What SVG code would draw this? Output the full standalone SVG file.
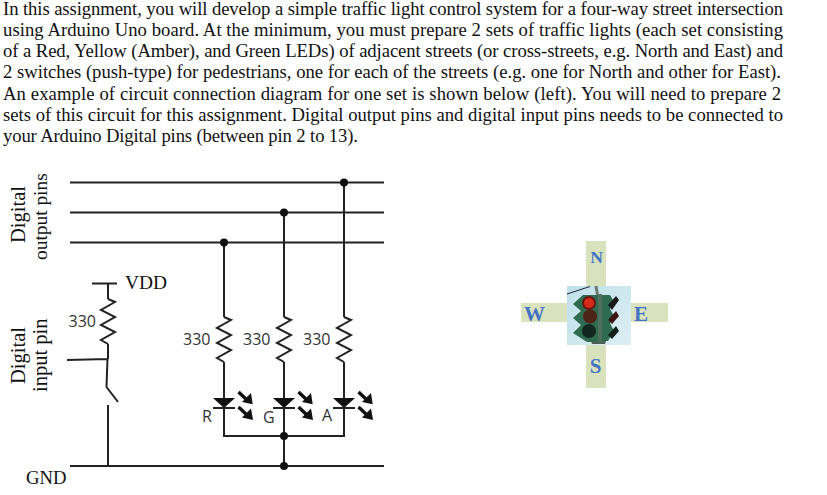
<svg xmlns="http://www.w3.org/2000/svg" width="827" height="495" viewBox="0 0 827 495">
<defs>
<style>
text{font-family:"Liberation Serif","Times New Roman",serif;fill:#111}
.body{font-size:18.66px}
.lab{font-size:19.4px}
.side{font-size:20.5px}
.sans{font-family:"Open Sans","DejaVu Sans",sans-serif;font-size:16px;fill:#333}
.w{fill:none;stroke:#222;stroke-width:2}
.tail{fill:none;stroke:#111;stroke-width:3.5}
.dot{fill:#111}
.dir{font-weight:bold;fill:#4472c4;text-anchor:middle}
</style>
<linearGradient id="sky" x1="0" y1="0" x2="1" y2="1"><stop offset="0" stop-color="#bfe0ea"/><stop offset="1" stop-color="#dceff3"/></linearGradient>
<g id="led">
<path d="M-11 -10 H11 L0 0 Z" fill="#111"/>
<path d="M-11 0 H11" class="w"/>
<path d="M14.500 -16 L23 -8" class="tail"/>
<path d="M28.700 -3.700 L27 -15 L18 -6 Z" fill="#111"/>
<path d="M14.500 -1 L23 7" class="tail"/>
<path d="M29 12 L27 0.500 L18 9.500 Z" fill="#111"/>
</g>
<path id="res" d="M0 0 L7 3 L-7 11 L7 18 L-7 26 L7 33 L-7 41 L0 45" fill="none" stroke="#222" stroke-width="2"/>
</defs>
<rect width="827" height="495" fill="#fff"/>
<g id="paragraph" class="body">
<text x="3" y="15" textLength="780" lengthAdjust="spacing">In this assignment, you will develop a simple traffic light control system for a four-way street intersection</text>
<text x="3" y="36" textLength="780" lengthAdjust="spacing">using Arduino Uno board. At the minimum, you must prepare 2 sets of traffic lights (each set consisting</text>
<text x="3" y="57.300" textLength="780" lengthAdjust="spacing">of a Red, Yellow (Amber), and Green LEDs) of adjacent streets (or cross-streets, e.g. North and East) and</text>
<text x="3" y="78.400" textLength="778" lengthAdjust="spacing">2 switches (push-type) for pedestrians, one for each of the streets (e.g. one for North and other for East).</text>
<text x="3" y="99.500" textLength="778" lengthAdjust="spacing">An example of circuit connection diagram for one set is shown below (left). You will need to prepare 2</text>
<text x="3" y="120.600" textLength="780" lengthAdjust="spacing">sets of this circuit for this assignment. Digital output pins and digital input pins needs to be connected to</text>
<text x="3" y="141.700" textLength="355" lengthAdjust="spacing">your Arduino Digital pins (between pin 2 to 13).</text>
</g>
<g id="connectors">
<path class="w" d="M70 182.500H384M70 212.500H384M70 242.500H384M70 466H384"/>
<path class="w" d="M224 242V317M224 362V398M224 408V436H344V408M344 362V398M344 182V317M284 212V317M284 362V398M284 408V466"/>
<path class="w" d="M92 283.500H117M108 283.500V299M108 344V359M67 360L108 359M107.500 359L106.500 387L118 402M108 405V466"/>
</g>
<g id="dots">
<circle class="dot" cx="344" cy="182.500" r="4"/>
<circle class="dot" cx="284" cy="212.500" r="4"/>
<circle class="dot" cx="224" cy="242.500" r="4"/>
<circle class="dot" cx="284" cy="436" r="4"/>
<circle class="dot" cx="284" cy="466" r="4"/>
</g>
<g id="r0"><use href="#res" x="108" y="299"/><text class="sans" x="68.500" y="327">330</text></g>
<g id="r1"><use href="#res" x="224" y="317"/><text class="sans" x="183" y="345">330</text></g>
<g id="r2"><use href="#res" x="284" y="317"/><text class="sans" x="243" y="345">330</text></g>
<g id="r3"><use href="#res" x="344" y="317"/><text class="sans" x="303" y="345">330</text></g>
<g id="led-r"><use href="#led" x="224" y="408"/><text class="sans" x="202" y="422">R</text></g>
<g id="led-g"><use href="#led" x="284" y="408"/><text class="sans" x="263" y="423">G</text></g>
<g id="led-a"><use href="#led" x="344" y="408"/><text class="sans" x="322" y="421">A</text></g>
<g id="labels">
<text class="lab" x="125" y="289">VDD</text>
<text style="font-size:18.66px" x="26" y="484">GND</text>
<text class="side" transform="translate(25 243) rotate(-90)">Digital</text>
<text class="lab" transform="translate(47 260) rotate(-90)">output pins</text>
<text class="side" transform="translate(25 384) rotate(-90)">Digital</text>
<text class="side" transform="translate(47 392) rotate(-90)">input pin</text>
</g>
<g id="compass">
<rect x="586" y="241" width="20" height="147" fill="#d8e3bd"/>
<rect x="521" y="303" width="147" height="19" fill="#d8e3bd"/>
<rect x="567" y="286" width="64" height="59" fill="url(#sky)"/>
<path d="M567 294L590 286.500" stroke="#223" stroke-width="1" fill="none"/>
<path d="M596 286L598 298" stroke="#6a7a70" stroke-width="3" fill="none"/>
<path d="M590 338H607L605 344H592Z" fill="#4a5f55"/>
<path d="M573 304L583 295H598V342H587L573 333L581 325L573 318L581 311Z" fill="#2f6b50"/>
<path d="M602 295H610L613 300L610 309L614 316L610 323L614 331L608 341H602Z" fill="#2f6b50"/>
<rect x="598" y="294" width="4" height="48" fill="#4f705c"/>
<circle cx="589" cy="303" r="7" fill="#6a1510"/>
<circle cx="589" cy="303" r="5" fill="#d52a18"/>
<circle cx="590" cy="316.500" r="7" fill="#4e2416"/>
<circle cx="589" cy="331" r="7" fill="#10261f"/>
<path d="M608 305L616 296L619 300L612 310Z" fill="#1a1a1a"/>
<path d="M608 320L616 311L619 316L612 324Z" fill="#3a1512"/>
<path d="M608 335L616 326L619 331L612 339Z" fill="#12201a"/>
<text class="dir" style="font-size:17.500px" x="596.500" y="263">N</text>
<text class="dir" style="font-size:21px" x="534.500" y="320.500">W</text>
<text class="dir" style="font-size:21px" x="641" y="320.500">E</text>
<text class="dir" style="font-size:21px" x="595.500" y="373">S</text>
</g>
</svg>
